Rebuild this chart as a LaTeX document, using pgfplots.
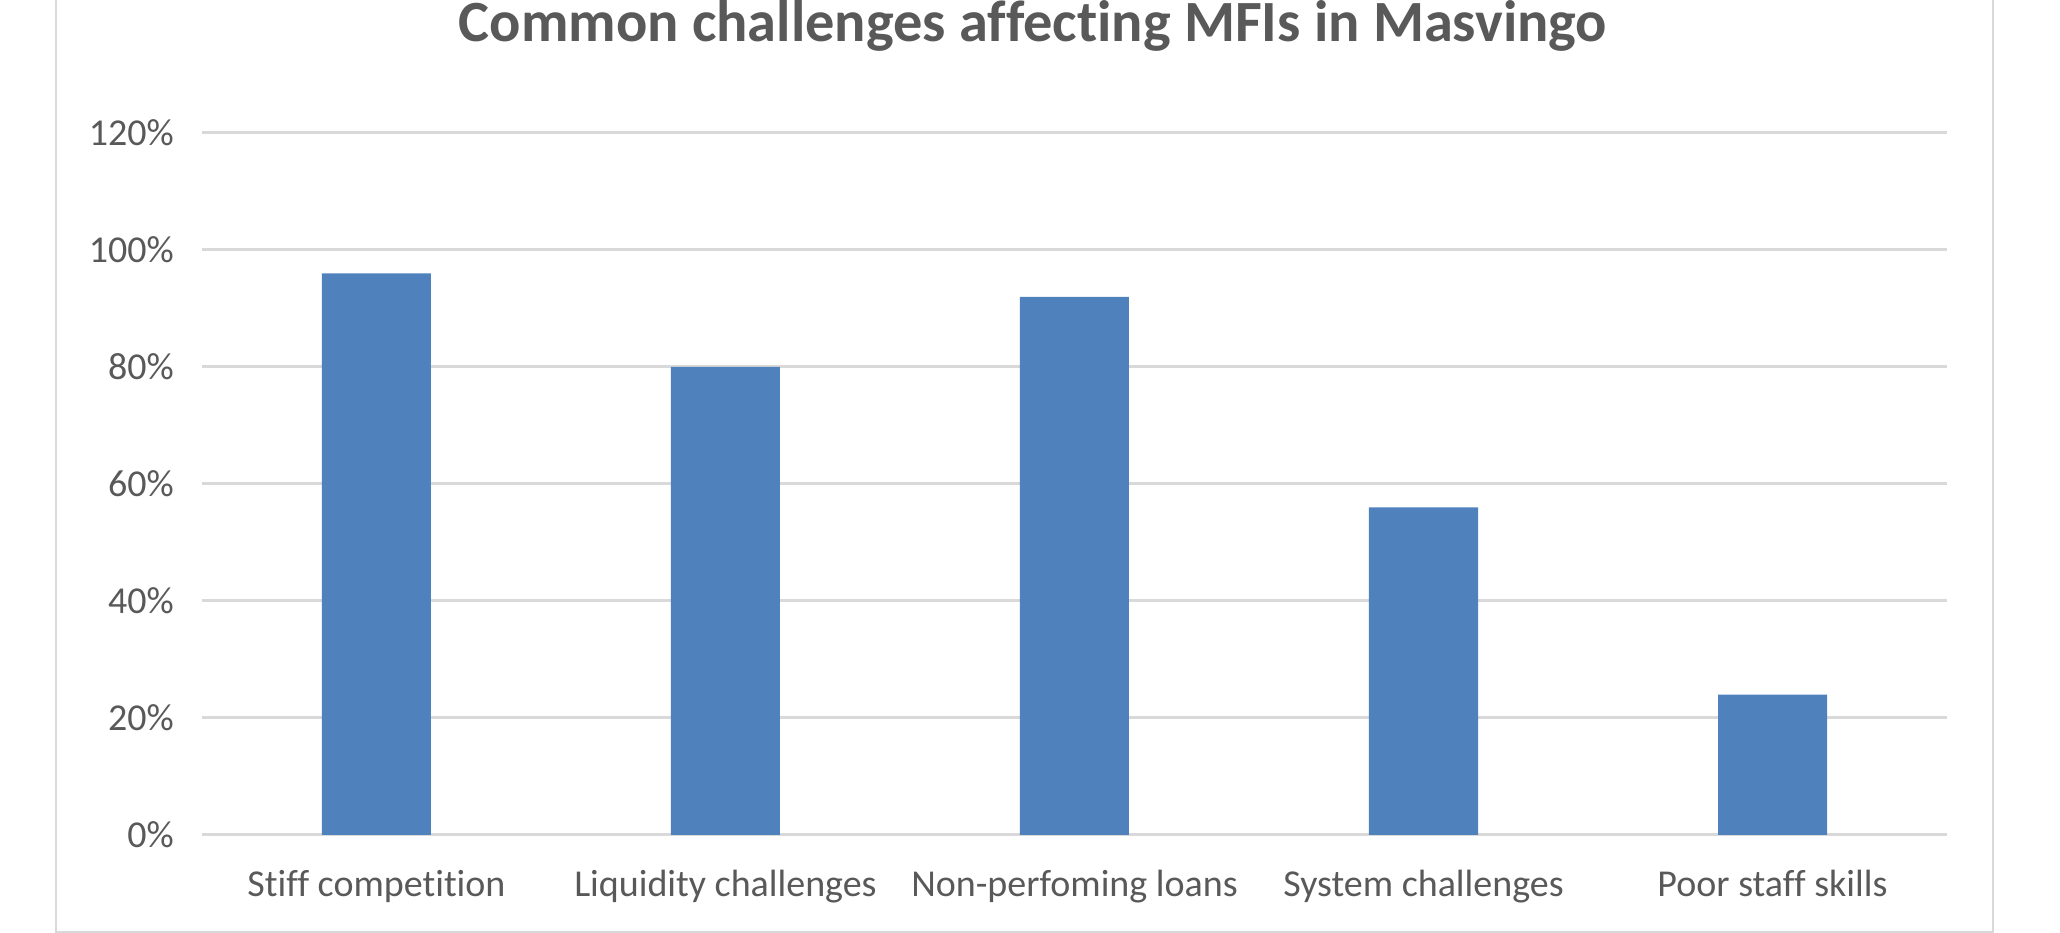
\documentclass[border=0pt]{standalone}
\usepackage{pgfplots}
\pgfplotsset{compat=1.18}
\usepackage{fontspec}
\setmainfont[Ligatures=NoCommon]{Carlito}
\definecolor{barblue}{HTML}{4F81BD}
\definecolor{gridgray}{HTML}{D9D9D9}
\definecolor{textgray}{HTML}{595959}
\begin{document}
\begin{tikzpicture}
\begin{axis}[
    at={(0,0)}, anchor=south west,
    scale only axis,
    width=436.25pt, height=175.5pt,
    ymin=0, ymax=120,
    xmin=-0.5, xmax=4.5,
    ytick={0,20,...,120},
    yticklabel={\pgfmathprintnumber{\tick}\%},
    /pgf/number format/assume math mode=true,
    xtick=data,
    xticklabels={Stiff competition, Liquidity challenges, Non-perfoming loans, System challenges, Poor staff skills},
    axis line style={draw=none},
    tick style={draw=none},
    ymajorgrids,
    major grid style={gridgray, line width=0.75pt},
    ticklabel style={font=\fontsize{9.5}{11}\selectfont, text=textgray},
    yticklabel style={xshift=-3.5pt},
    xticklabel style={yshift=-1pt},
    ybar, bar width=27.25pt,
    clip=false,
    ]
\addplot[fill=barblue, draw=none] coordinates {(0,96) (1,80) (2,92) (3,56) (4,24)};
\end{axis}
\node[anchor=base, text=textgray, font=\fontsize{14.6}{17}\selectfont\bfseries] at (207.75pt,198.25pt) {Common challenges affecting MFIs in Masvingo};
\draw[gridgray, line width=0.7pt] (-36.5pt,230pt) -- (-36.5pt,-24.25pt) -- (447.75pt,-24.25pt) -- (447.75pt,230pt);
\pgfresetboundingbox
\useasboundingbox (-50.5pt,-24.5pt) rectangle (464.5pt,208.75pt);
\end{tikzpicture}
\end{document}
